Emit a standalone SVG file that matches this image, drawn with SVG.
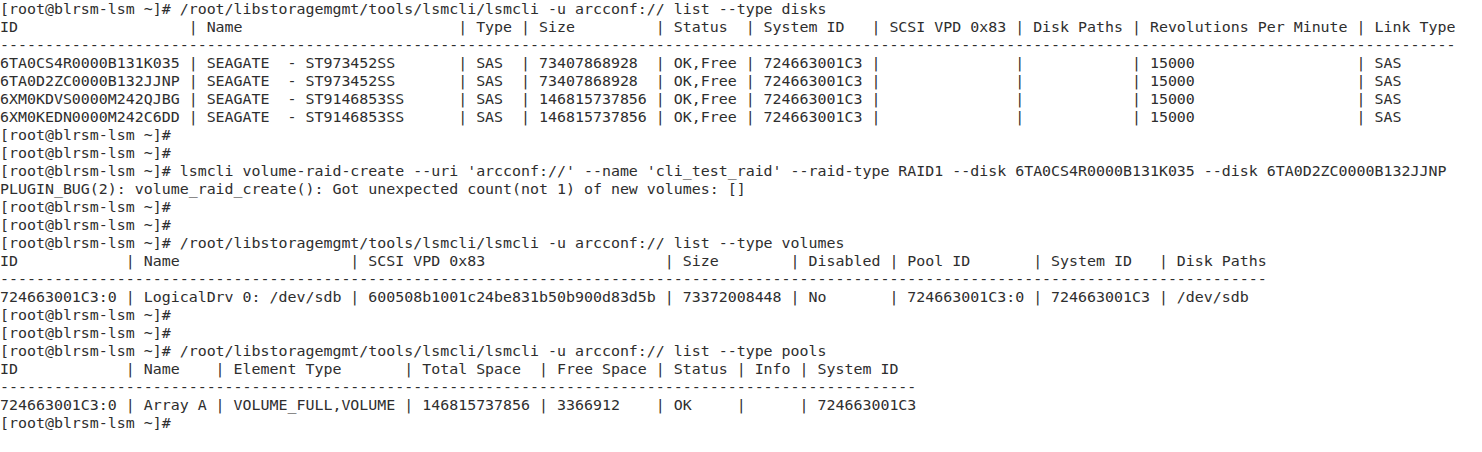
<svg xmlns="http://www.w3.org/2000/svg" width="1482" height="452" viewBox="0 0 1482 452">
<style>text{font-family:"DejaVu Sans Mono","Liberation Mono",monospace;font-size:14.93px;fill:#2e2e2e;white-space:pre}</style>
<rect width="1482" height="452" fill="#ffffff"/>
<g id="terminal" xml:space="preserve">
<text x="0" y="14">[root@blrsm-lsm ~]# /root/libstoragemgmt/tools/lsmcli/lsmcli -u arcconf:// list --type disks</text>
<text x="0" y="32">ID                   | Name                        | Type | Size         | Status  | System ID   | SCSI VPD 0x83 | Disk Paths | Revolutions Per Minute | Link Type</text>
<text x="0" y="50">------------------------------------------------------------------------------------------------------------------------------------------------------------------</text>
<text x="0" y="68">6TA0CS4R0000B131K035 | SEAGATE  - ST973452SS       | SAS  | 73407868928  | OK,Free | 724663001C3 |               |            | 15000                  | SAS</text>
<text x="0" y="86">6TA0D2ZC0000B132JJNP | SEAGATE  - ST973452SS       | SAS  | 73407868928  | OK,Free | 724663001C3 |               |            | 15000                  | SAS</text>
<text x="0" y="104">6XM0KDVS0000M242QJBG | SEAGATE  - ST9146853SS      | SAS  | 146815737856 | OK,Free | 724663001C3 |               |            | 15000                  | SAS</text>
<text x="0" y="122">6XM0KEDN0000M242C6DD | SEAGATE  - ST9146853SS      | SAS  | 146815737856 | OK,Free | 724663001C3 |               |            | 15000                  | SAS</text>
<text x="0" y="140">[root@blrsm-lsm ~]#</text>
<text x="0" y="158">[root@blrsm-lsm ~]#</text>
<text x="0" y="176">[root@blrsm-lsm ~]# lsmcli volume-raid-create --uri 'arcconf://' --name 'cli_test_raid' --raid-type RAID1 --disk 6TA0CS4R0000B131K035 --disk 6TA0D2ZC0000B132JJNP</text>
<text x="0" y="194">PLUGIN_BUG(2): volume_raid_create(): Got unexpected count(not 1) of new volumes: []</text>
<text x="0" y="212">[root@blrsm-lsm ~]#</text>
<text x="0" y="230">[root@blrsm-lsm ~]#</text>
<text x="0" y="248">[root@blrsm-lsm ~]# /root/libstoragemgmt/tools/lsmcli/lsmcli -u arcconf:// list --type volumes</text>
<text x="0" y="266">ID            | Name                   | SCSI VPD 0x83                    | Size        | Disabled | Pool ID       | System ID   | Disk Paths</text>
<text x="0" y="284">---------------------------------------------------------------------------------------------------------------------------------------------</text>
<text x="0" y="302">724663001C3:0 | LogicalDrv 0: /dev/sdb | 600508b1001c24be831b50b900d83d5b | 73372008448 | No       | 724663001C3:0 | 724663001C3 | /dev/sdb</text>
<text x="0" y="320">[root@blrsm-lsm ~]#</text>
<text x="0" y="338">[root@blrsm-lsm ~]#</text>
<text x="0" y="356">[root@blrsm-lsm ~]# /root/libstoragemgmt/tools/lsmcli/lsmcli -u arcconf:// list --type pools</text>
<text x="0" y="374">ID            | Name    | Element Type       | Total Space  | Free Space | Status | Info | System ID</text>
<text x="0" y="392">------------------------------------------------------------------------------------------------------</text>
<text x="0" y="410">724663001C3:0 | Array A | VOLUME_FULL,VOLUME | 146815737856 | 3366912    | OK     |      | 724663001C3</text>
<text x="0" y="428">[root@blrsm-lsm ~]#</text>
</g>
</svg>
